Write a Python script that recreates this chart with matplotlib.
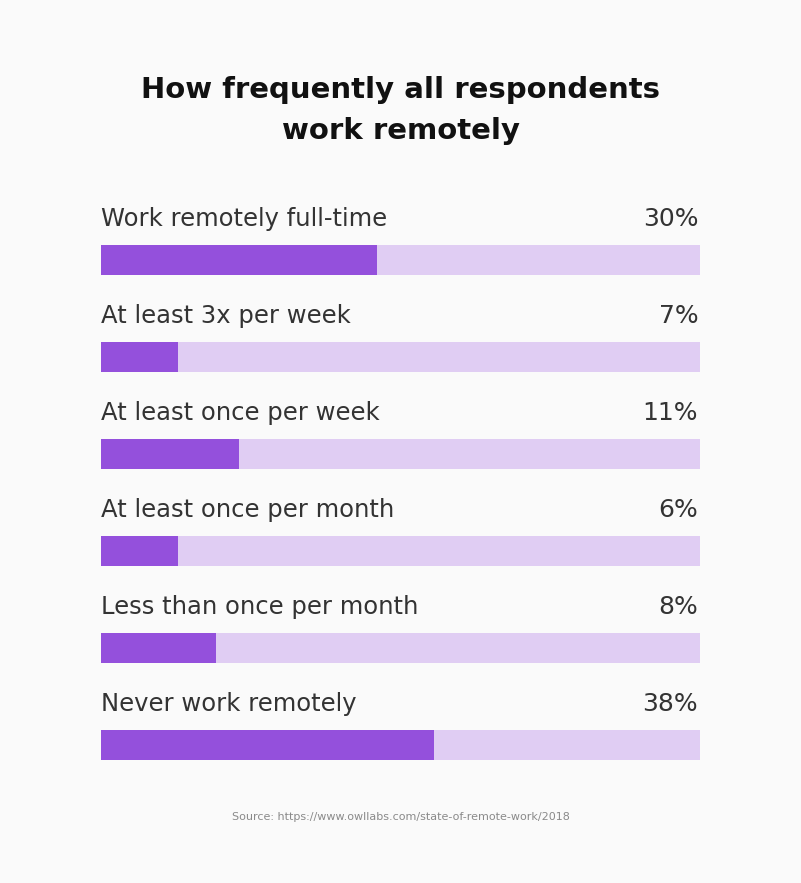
import matplotlib.pyplot as plt

categories = ["Work remotely full-time", "At least 3x per week", "At least once per week",
              "At least once per month", "Less than once per month", "Never work remotely"]
pct_labels = [30, 7, 11, 6, 8, 38]
# filled share of each track, as drawn in the original graphic (0-100 scale)
fill = [46.1, 12.9, 23.0, 12.9, 19.2, 55.6]

title_lines = ["How frequently all respondents", "work remotely"]
source = "Source: https://www.owllabs.com/state-of-remote-work/2018"

bg = "#fafafa"
dark = "#9450dc"
light = "#e0cdf3"
txt = "#333333"

plt.rcParams['font.family'] = ['DejaVu Sans']

W, H = 801, 883
fig = plt.figure(figsize=(W / 100, H / 100), dpi=100)
fig.patch.set_facecolor(bg)

unit = 97.0
top = 260 - 0.8 * unit
bot = 260 + 5.5 * unit
ax = fig.add_axes([101 / W, 1 - bot / H, 599 / W, (bot - top) / H])
ax.set_facecolor(bg)
ax.set_xlim(0, 100)
ax.set_ylim(5.5, -0.8)
ax.axis("off")

bh = 30 / unit
ys = list(range(len(categories)))
ax.barh(ys, [100] * len(ys), height=bh, color=light, linewidth=0)
ax.barh(ys, fill, height=bh, color=dark, linewidth=0)

off = bh / 2 + 19 / unit
for y, cat, p in zip(ys, categories, pct_labels):
    ax.text(0, y - off, cat, fontsize=17.5, color=txt, va="baseline", ha="left")
    ax.text(99.7, y - off, f"{p}%", fontsize=18, color=txt, va="baseline", ha="right")

fig.text(0.5, 1 - 98 / H, title_lines[0], fontsize=21, fontweight="bold",
         color="#111111", ha="center", va="baseline")
fig.text(0.5, 1 - 139 / H, title_lines[1], fontsize=21, fontweight="bold",
         color="#111111", ha="center", va="baseline")
fig.text(0.5, 1 - 820 / H, source, fontsize=8, color="#8a8a8a",
         ha="center", va="baseline")

fig.savefig("out.png", dpi=100, facecolor=bg)
